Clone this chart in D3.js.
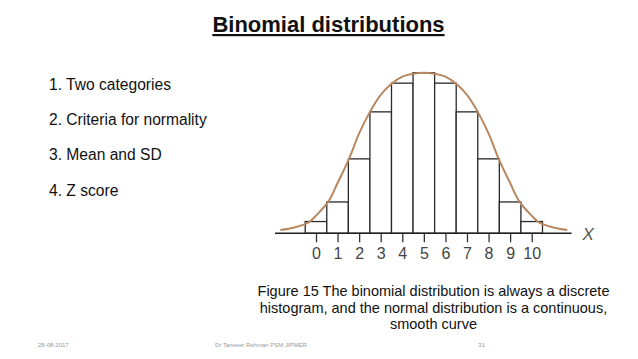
<!DOCTYPE html>
<html>
<head>
<meta charset="utf-8">
<script src="https://cdn.jsdelivr.net/npm/d3@7"></script>
<style>
  body { margin: 0; background: #fff; }
  svg { display: block; font-family: "Liberation Sans", Arial, sans-serif; }
</style>
</head>
<body>
<svg id="slide" width="638" height="359"></svg>
<script>
// slide text
const title = 'Binomial distributions'
const points = ['1. Two categories', '2. Criteria for normality', '3. Mean and SD', '4. Z score']
const caption = [
  'Figure 15 The binomial distribution is always a discrete',
  'histogram, and the normal distribution is a continuous,',
  'smooth curve'
]
const footer = ['28-08-2017', 'Dr Tanveer Rehman PSM JIPMER', '31']

// histogram: x = 0..10, bar heights
const xValues = [0, 1, 2, 3, 4, 5, 6, 7, 8, 9, 10]
const barValues = [0.018, 0.048, 0.114, 0.186, 0.230, 0.246, 0.230, 0.186, 0.114, 0.048, 0.018]

// normal curve, points
const curveX = [-1.65, -1, -0.5, -0.28, 0, 0.57, 1, 1.53, 2, 2.5, 3, 3.5, 4, 4.5, 5,
  5.5, 6, 6.5, 7, 7.5, 8, 8.47, 9, 9.43, 10, 10.28, 10.5, 11, 11.65]
const curveY = [0.005, 0.009, 0.014, 0.018, 0.027, 0.0485, 0.077, 0.114, 0.153, 0.186, 0.212, 0.229, 0.240, 0.2445, 0.246,
  0.2445, 0.240, 0.229, 0.212, 0.186, 0.153, 0.114, 0.077, 0.0485, 0.027, 0.018, 0.014, 0.009, 0.005]

const svg = d3.select('#slide')

// title
svg.append('text')
  .attr('x', 328.5)
  .attr('y', 32)
  .attr('text-anchor', 'middle')
  .style('font-size', '22px')
  .style('font-weight', 'bold')
  .style('text-decoration', 'underline')
  .attr('fill', '#111')
  .text(title)

// bullet points
svg.selectAll('.point')
  .data(points)
  .enter()
  .append('text')
  .attr('class', 'point')
  .attr('x', 49)
  .attr('y', (d, i) => 90 + i * 35.2)
  .style('font-size', '15.6px')
  .attr('fill', '#111')
  .text(d => d)

// chart
const x = d3.scaleLinear()
  .domain([0, 10])
  .range([316, 531.7])

const y = d3.scaleLinear()
  .domain([0, 0.246])
  .range([233.3, 72.7])

const chart = svg.append('g')

chart.selectAll('rect')
  .data(barValues)
  .enter()
  .append('rect')
  .attr('x', (d, i) => x(xValues[i] - 0.5))
  .attr('y', d => y(d))
  .attr('width', x(1) - x(0))
  .attr('height', d => y(0) - y(d))
  .attr('fill', '#fff')
  .attr('stroke', '#2a2a2a')
  .attr('stroke-width', 1.3)

const line = d3.line()
  .x(d => x(d[0]))
  .y(d => y(d[1]))
  .curve(d3.curveCatmullRom)

chart.append('path')
  .datum(d3.zip(curveX, curveY))
  .attr('d', line)
  .attr('fill', 'none')
  .attr('stroke', '#b8875f')
  .attr('stroke-width', 2)

// axis line across the whole chart
chart.append('line')
  .attr('x1', x(-1.9))
  .attr('x2', x(11.85))
  .attr('y1', y(0))
  .attr('y2', y(0))
  .attr('stroke', '#222')
  .attr('stroke-width', 1.5)

const xAxis = d3.axisBottom(x)
  .tickValues(xValues)
  .tickSize(9)
  .tickPadding(5)
  .tickFormat(d3.format('d'))

const ax = chart.append('g')
  .attr('transform', 'translate(0,' + y(0) + ')')
  .call(xAxis)
ax.select('.domain').remove()
ax.selectAll('.tick line').attr('stroke', '#333').attr('stroke-width', 1.3)
ax.selectAll('.tick text')
  .attr('fill', '#444')
  .style('font-family', '"Liberation Sans Narrow", "Arial Narrow", sans-serif')
  .style('font-size', '16px')

chart.append('text')
  .attr('x', x(12.35))
  .attr('y', y(0) + 7)
  .style('font-size', '17px')
  .style('font-style', 'italic')
  .style('font-family', '"Liberation Sans Narrow", "Arial Narrow", sans-serif')
  .attr('fill', '#555')
  .text('X')

// caption
svg.selectAll('.caption')
  .data(caption)
  .enter()
  .append('text')
  .attr('class', 'caption')
  .attr('x', 433.5)
  .attr('y', (d, i) => 296 + i * 16.5)
  .attr('text-anchor', 'middle')
  .style('font-size', '14.5px')
  .attr('fill', '#111')
  .text(d => d)

// footer
svg.selectAll('.footer')
  .data(footer)
  .enter()
  .append('text')
  .attr('class', 'footer')
  .attr('x', (d, i) => [38, 261, 485][i])
  .attr('y', 347)
  .attr('text-anchor', (d, i) => ['start', 'middle', 'end'][i])
  .style('font-family', '"Liberation Sans Narrow", "Arial Narrow", sans-serif')
  .style('font-size', '6px')
  .attr('fill', '#999')
  .text(d => d)
</script>
</body>
</html>
